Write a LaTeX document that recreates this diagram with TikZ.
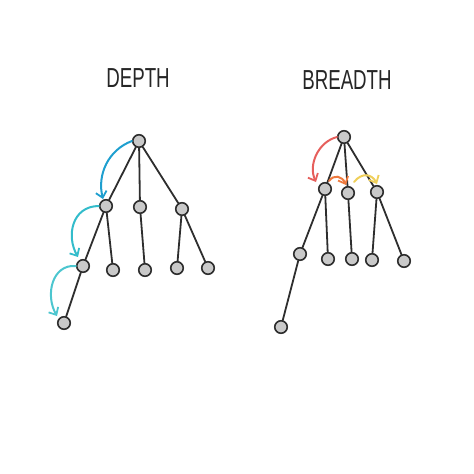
\documentclass[tikz,border=0pt]{standalone}
\usepackage{fontspec}
\setmainfont{Liberation Sans}
\usetikzlibrary{arrows.meta}
\definecolor{nodefill}{HTML}{C9C9C9}
\definecolor{nodeedge}{HTML}{2E2E2E}
\definecolor{dblue}{HTML}{1E9FCF}
\definecolor{dteal}{HTML}{33BCCB}
\definecolor{dteal2}{HTML}{4CC6CF}
\definecolor{bred}{HTML}{E65F5C}
\definecolor{borange}{HTML}{EE7A3E}
\definecolor{byellow}{HTML}{EFCF5A}
\tikzset{
  vert/.style={circle, draw=nodeedge, line width=1.6pt, fill=nodefill, inner sep=0pt, minimum size=12.5pt},
  edge/.style={draw=nodeedge, line width=1.8pt, line cap=round},
  trav/.style={line width=2pt, line cap=round, -{Straight Barb[length=6pt,width=11pt,line width=1.8pt]}},
  ttl/.style={text=black!85, font=\fontsize{22}{22}\selectfont, xscale=0.85, yscale=1.25}
}
\begin{document}
\begin{tikzpicture}[x=1pt,y=-1pt]
\useasboundingbox (0,0) rectangle (474,474);
% ---------- DEPTH ----------
\node[ttl] (tdepth) at (138,78) {DEPTH};
\node[vert] (r) at (139,141) {};
\node[vert] (a) at (106,206) {};
\node[vert] (b) at (140,207) {};
\node[vert] (c) at (182,209) {};
\node[vert] (a1) at (83,266) {};
\node[vert] (a2) at (113,270) {};
\node[vert] (b1) at (145,270) {};
\node[vert] (c1) at (177,268) {};
\node[vert] (c2) at (208,268) {};
\node[vert] (a11) at (64,323) {};
\draw[edge] (r) -- (a);
\draw[edge] (r) -- (b);
\draw[edge] (r) -- (c);
\draw[edge] (a) -- (a1);
\draw[edge] (a) -- (a2);
\draw[edge] (b) -- (b1);
\draw[edge] (c) -- (c1);
\draw[edge] (c) -- (c2);
\draw[edge] (a1) -- (a11);
\draw[trav, dblue] (r.west) .. controls (108,150) and (97,175) .. (103,199);
\draw[trav, dteal] (a.west) .. controls (72,206) and (66,236) .. (78,257);
\draw[trav, dteal2] (a1.west) .. controls (52,264) and (45,295) .. (57,316);
% ---------- BREADTH ----------
\node[ttl] (tbreadth) at (347,80) {BREADTH};
\node[vert] (R) at (344,137) {};
\node[vert] (A) at (325,189) {};
\node[vert] (B) at (348,193) {};
\node[vert] (C) at (377,192) {};
\node[vert] (A1) at (300,254) {};
\node[vert] (A2) at (328,259) {};
\node[vert] (B1) at (352,259) {};
\node[vert] (C1) at (372,260) {};
\node[vert] (C2) at (404,261) {};
\node[vert] (A11) at (281,327) {};
\draw[edge] (R) -- (A);
\draw[edge] (R) -- (B);
\draw[edge] (R) -- (C);
\draw[edge] (A) -- (A1);
\draw[edge] (A) -- (A2);
\draw[edge] (B) -- (B1);
\draw[edge] (C) -- (C1);
\draw[edge] (C) -- (C2);
\draw[edge] (A1) -- (A11);
\draw[trav, bred] (R.west) .. controls (318,142) and (308,165) .. (316,182);
\draw[trav, borange] (329,181) .. controls (334,174) and (342,176) .. (346,185);
\draw[trav, byellow] (354,182) .. controls (362,172) and (372,174) .. (377,184);
\end{tikzpicture}
\end{document}
